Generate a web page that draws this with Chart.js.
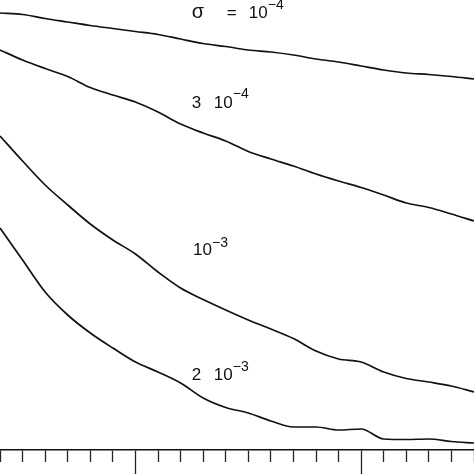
<!DOCTYPE html>
<html>
<head>
<meta charset="utf-8">
<script src="https://cdn.jsdelivr.net/npm/chart.js@4"></script>
<style>
    html, body { margin: 0; padding: 0; background: #fff; }
    #wrap { width: 474px; height: 474px; }
</style>
</head>
<body>
<div id="wrap"><canvas id="decayChart"></canvas></div>
<script>
// sample positions along the x axis
const xValues = [4, 5, 6, 7, 8, 9, 10, 11, 12, 13, 14, 15, 16, 17, 18, 19, 20, 21, 22, 23, 24, 25];

// one curve per sigma
const sigma1e4 = [43.7, 43.55, 43.15, 42.8, 42.45, 42.15, 41.85, 41.55, 41.1, 40.65, 40.35, 40.0, 39.8, 39.5, 39.1, 38.8, 38.4, 38.0, 37.7, 37.55, 37.35, 37.1];
const sigma3e4 = [40.0, 39.0, 38.15, 37.35, 36.25, 35.5, 34.8, 33.8, 32.6, 31.7, 30.9, 29.85, 29.1, 28.4, 27.6, 26.9, 26.25, 25.5, 24.7, 24.25, 23.6, 22.9];
const sigma1e3 = [31.4, 28.9, 26.5, 24.5, 22.6, 21.0, 19.6, 17.8, 16.2, 15.05, 14.0, 13.0, 12.1, 11.15, 9.9, 9.1, 8.8, 7.8, 7.15, 6.8, 6.4, 5.8];
const sigma2e3 = [22.2, 19.0, 15.8, 13.5, 11.7, 10.2, 8.8, 7.8, 6.7, 5.2, 4.25, 3.7, 2.9, 2.3, 2.3, 2.0, 2.1, 1.1, 1.05, 1.1, 0.85, 0.7];

const seriesNames = ['σ = 10^-4', '3 10^-4', '10^-3', '2 10^-3'];
const seriesValues = [sigma1e4, sigma3e4, sigma1e3, sigma2e3];

const xMin = 4, xMax = 25;
const yMin = 0, yMax = 45;
const minorStep = 1, majorStep = 10;

// curve labels: anchor in data units, pieces offset in px
const curveLabels = [
    { x: 12.5, y: 43.2, parts: [
        { t: 'σ', dx: 0, dy: 0, size: 20 },
        { t: '=', dx: 35, dy: 0, size: 17 },
        { t: '10', dx: 57, dy: 0, size: 17 },
        { t: '−4', dx: 76, dy: -9, size: 14 }
    ] },
    { x: 12.5, y: 34.2, parts: [
        { t: '3', dx: 0, dy: 0, size: 17 },
        { t: '10', dx: 22, dy: 0, size: 17 },
        { t: '−4', dx: 41, dy: -10, size: 14 }
    ] },
    { x: 12.55, y: 19.5, parts: [
        { t: '10', dx: 0, dy: 0, size: 17 },
        { t: '−3', dx: 19, dy: -8, size: 14 }
    ] },
    { x: 12.5, y: 7.0, parts: [
        { t: '2', dx: 0, dy: 0, size: 17 },
        { t: '10', dx: 22, dy: 0, size: 17 },
        { t: '−3', dx: 41, dy: -9, size: 14 }
    ] }
];

const labelPlugin = {
    id: 'curveLabels',
    afterDatasetsDraw(chart) {
        const ctx = chart.ctx;
        const xs = chart.scales.x;
        const ys = chart.scales.y;
        ctx.save();
        ctx.fillStyle = '#111';
        ctx.textBaseline = 'alphabetic';
        ctx.textAlign = 'left';
        curveLabels.forEach(lbl => {
            const px = xs.getPixelForValue(lbl.x);
            const py = ys.getPixelForValue(lbl.y);
            lbl.parts.forEach(p => {
                ctx.font = p.size + 'px "Liberation Sans", Arial, sans-serif';
                ctx.fillText(p.t, px + p.dx, py + p.dy);
            });
        });
        ctx.restore();
    }
};

const datasets = seriesValues.map((vals, i) => ({
    label: seriesNames[i],
    data: xValues.map((x, j) => ({ x: x, y: vals[j] })),
    borderColor: '#111',
    borderWidth: 1.7,
    pointRadius: 0,
    fill: false,
    cubicInterpolationMode: 'monotone'
}));

new Chart(document.getElementById('decayChart'), {
    type: 'line',
    data: { datasets },
    options: {
        responsive: true,
        maintainAspectRatio: false,
        animation: false,
        layout: { padding: 0 },
        plugins: { legend: { display: false }, tooltip: { enabled: false } },
        scales: {
            x: {
                type: 'linear',
                position: 'bottom',
                min: xMin, max: xMax,
                ticks: { display: false, stepSize: minorStep, includeBounds: false },
                grid: { drawOnChartArea: false, drawTicks: true, tickLength: 12, tickColor: '#222', tickWidth: 1.3 },
                border: { display: true, color: '#111', width: 1.6 }
            },
            x2: {
                type: 'linear',
                position: 'bottom',
                min: xMin, max: xMax,
                ticks: { display: false, stepSize: majorStep, includeBounds: false },
                grid: { drawOnChartArea: false, drawTicks: true, tickLength: 12, tickColor: '#222', tickWidth: 1.3 },
                border: { display: false }
            },
            y: {
                display: false,
                min: yMin, max: yMax
            }
        }
    },
    plugins: [labelPlugin]
});
</script>
</body>
</html>
